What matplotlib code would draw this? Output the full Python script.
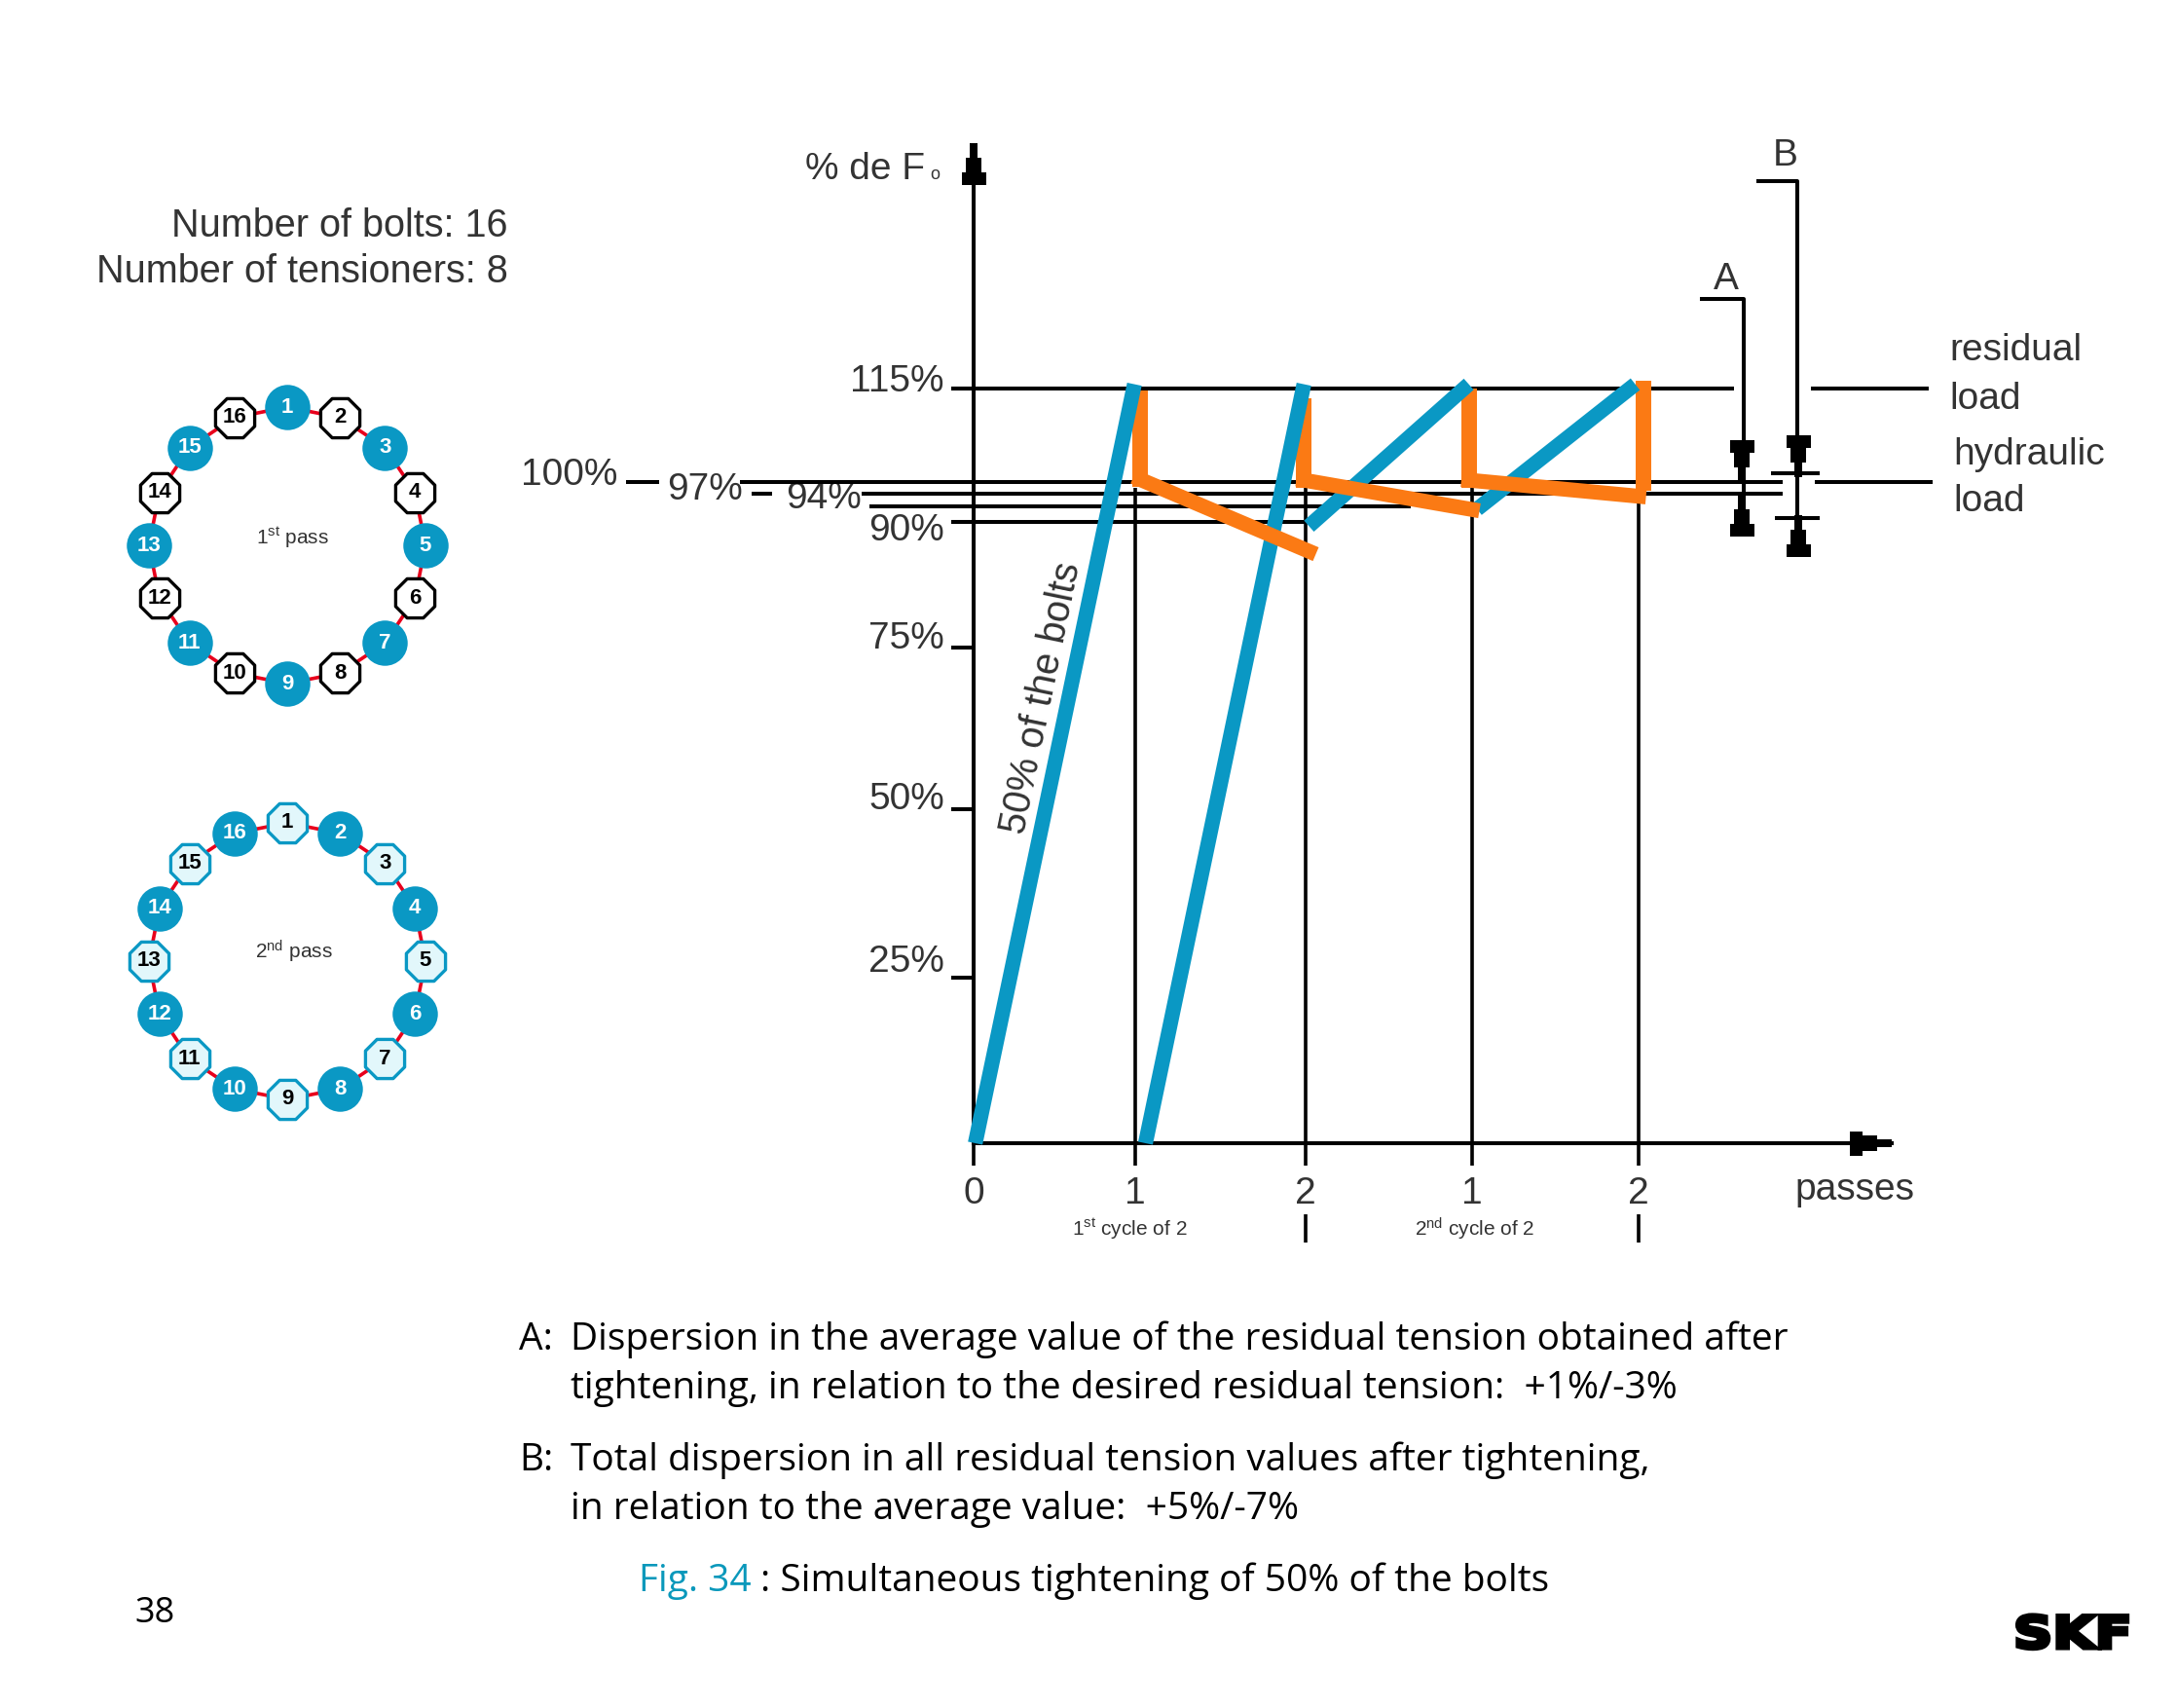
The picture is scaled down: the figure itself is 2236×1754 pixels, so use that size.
"""Simultaneous tightening of 50% of the bolts (Fig. 34)."""

import numpy as np
from matplotlib import pyplot as plt
from matplotlib import patheffects as pe
from matplotlib.transforms import Affine2D, blended_transform_factory

W, H = 2236, 1754

BLUE = "#0a98c4"
ORANGE = "#fb7a14"
LIGHT = "#e2f7fb"
RED = "#e8001c"
GREY = "#333333"

# chart data: percent of F0 against pass number
blue_x = [[0.01, 0.995], [1.06, 1.99], [2.02, 2.98], [3.03, 3.98]]
blue_y = [[0, 115.8], [0, 115.8], [89.5, 115.8], [93.3, 115.8]]
drop_x = [1.03, 1.99, 2.98, 4.02]
drop_top = [113.5, 112.2, 113.8, 115]
drop_bottom = [100.4, 100.3, 100.3, 99.7]
relax_x = [[1.03, 2.02], [1.99, 3.0], [2.98, 4.0]]
relax_y = [[100.4, 86.5], [100.3, 93.2], [100.3, 96.4]]

pass_ticks = [0, 1, 2, 3, 4]
pass_labels = ["0", "1", "2", "1", "2"]
grid_passes = [1, 2, 3, 4]
cycle_ends = [2, 4]
percent_ticks = [25, 50, 75, 90, 115]
percent_nudge = [16, 10, 9, -9, 7]

bolts = list(range(1, 17))

# the drawing is not to scale, so the axes follow the printed levels
y_levels = [0, 25, 50, 75, 90, 94, 97, 100, 115, 160]
y_pixels = [1174, 1004, 831, 665, 536, 520, 507, 495, 399, 150]
x_levels = [0, 1, 2, 3, 4, 5]
x_pixels = [1000, 1166, 1341, 1512, 1683, 1943]


def forward_y(v):
    return np.interp(v, y_levels, -np.array(y_pixels, dtype=float))


def inverse_y(v):
    return np.interp(v, -np.array(y_pixels, dtype=float), y_levels)


def forward_x(v):
    return np.interp(v, x_levels, x_pixels)


def inverse_x(v):
    return np.interp(v, x_pixels, x_levels)


class StretchedText(pe.AbstractPathEffect):
    """Widens the glyphs around their anchor and fattens them, for the logo."""

    def __init__(self, sx, width):
        super().__init__()
        self.sx = sx
        self.width = width

    def draw_path(self, renderer, gc, tpath, affine, rgbFace=None):
        x0 = affine.get_matrix()[0, 2]
        stretched = affine + Affine2D().translate(-x0, 0).scale(self.sx, 1).translate(x0, 0)
        gc0 = renderer.new_gc()
        gc0.copy_properties(gc)
        gc0.set_linewidth(self.width)
        gc0.set_foreground("black")
        gc0.set_joinstyle("miter")
        renderer.draw_path(gc0, tpath, stretched, rgbFace)
        gc0.restore()


def arrow_head(ax, x, y, dx, dy):
    """Stepped black arrow head, tip at (x, y), pointing along (dx, dy)."""
    steps = [(0, 4), (15, 4), (15, 8), (30, 8), (30, 12.5), (43, 12.5)]
    side = [(a, b) for a, b in steps] + [(a, -b) for a, b in reversed(steps)]
    px = [x - dx * a - dy * b for a, b in side]
    py = [y - dy * a + dx * b for a, b in side]
    ax.fill(px, py, color="black", lw=0, zorder=6)


def draw_ring(ax, cx, cy, dark_odd, plain_face, plain_edge):
    angles = np.radians(np.array(bolts) - 1) * 22.5
    xs = cx + 142 * np.sin(angles)
    ys = cy - 142 * np.cos(angles)
    ax.plot(np.r_[xs, xs[0]], np.r_[ys, ys[0]], color=RED, lw=2.6, zorder=1)
    for n, x, y in zip(bolts, xs, ys):
        if (n % 2 == 1) == dark_odd:
            ax.scatter(x, y, s=1120, marker="o", color=BLUE, lw=0, zorder=2)
            colour = "white"
        else:
            ax.scatter(x, y, s=980, marker="8", facecolor=plain_face,
                       edgecolor=plain_edge, lw=2.4, zorder=2)
            colour = "black"
        ax.text(x, y, str(n), color=colour, fontsize=16, ha="center", va="center",
                fontweight="bold", zorder=3)


plt.rcParams["font.family"] = ["Liberation Sans", "DejaVu Sans"]
plt.rcParams["mathtext.default"] = "regular"

fig = plt.figure(figsize=(W / 100, H / 100), dpi=100)

# page layer in pixel units, for the labels and the bolt rings
page = fig.add_axes([0, 0, 1, 1], zorder=0)
page.set_xlim(0, W)
page.set_ylim(H, 0)
page.axis("off")

ax = fig.add_axes([1000 / W, 1 - 1174 / H, 943 / W, 1024 / H], zorder=1)
ax.patch.set_visible(False)
ax.set_xscale("function", functions=(forward_x, inverse_x))
ax.set_yscale("function", functions=(forward_y, inverse_y))

level_tf = blended_transform_factory(page.transData, ax.transData)
pass_tf = blended_transform_factory(ax.transData, page.transData)

# printed levels, broken where labels and brackets sit
for level, x0, x1 in [(115, 977, 1781), (115, 1860, 1981),
                      (100, 643, 677), (100, 760, 1831), (100, 1864, 1985),
                      (97, 772, 793), (97, 885, 1831),
                      (94, 893, 1449), (90, 977, 1345)]:
    ax.hlines(level, x0, x1, color="black", lw=2.9, transform=level_tf, clip_on=False, zorder=1)

ax.vlines(grid_passes, 0, 98.5, color="black", lw=2.6, zorder=1)
ax.vlines(cycle_ends, 1247, 1276, color="black", lw=2.6, transform=pass_tf, clip_on=False)

# orange falls, blue rises, then the orange relaxation on top
for x, top, bottom in zip(drop_x, drop_top, drop_bottom):
    ax.plot([x, x], [top, bottom], color=ORANGE, lw=11.5, solid_capstyle="projecting",
            clip_on=False, zorder=3)
for x, y in zip(blue_x, blue_y):
    ax.plot(x, y, color=BLUE, lw=11, solid_capstyle="butt", clip_on=False, zorder=4)
for x, y in zip(relax_x, relax_y):
    ax.plot(x, y, color=ORANGE, lw=11, solid_capstyle="projecting", clip_on=False, zorder=5)

ax.set_xlim(0, 5)
ax.set_ylim(0, 160)
for side in ["top", "right"]:
    ax.spines[side].set_visible(False)
for side in ["left", "bottom"]:
    ax.spines[side].set_linewidth(2.9)
ax.set_xticks(pass_ticks, pass_labels, fontsize=28, color=GREY)
ax.set_yticks(percent_ticks, [""] * len(percent_ticks))
ax.minorticks_off()
ax.tick_params(axis="x", length=16.5, width=2.6, pad=8)
ax.tick_params(axis="y", length=16.5, width=2.9)

for level, nudge in zip(percent_ticks, percent_nudge):
    ax.annotate(f"{level}%", xy=(0, level), xycoords=("axes fraction", "data"),
                xytext=(-30, nudge), textcoords="offset pixels", ha="right", va="center",
                fontsize=28, color=GREY)

arrow_head(page, 1000, 147, 0, -1)
arrow_head(page, 1943, 1174, 1, 0)

# A and B brackets
page.plot([1748, 1791, 1791], [307, 307, 545], color="black", lw=2.9, zorder=5)
page.plot([1806, 1846, 1846], [186, 186, 565], color="black", lw=2.9, zorder=5)
page.hlines([486, 532], [1819, 1823], 1869, color="black", lw=2.9)
arrow_head(page, 1789, 495, 0, 1)
arrow_head(page, 1789, 508, 0, -1)
arrow_head(page, 1847, 490, 0, 1)
arrow_head(page, 1847, 529, 0, -1)

draw_ring(page, 295, 560, True, "white", "black")
draw_ring(page, 295, 987, False, LIGHT, BLUE)
page.text(300, 552, "1$^{st}$ pass", fontsize=15, color=GREY, ha="center", va="center")
page.text(302, 977, "2$^{nd}$ pass", fontsize=15, color=GREY, ha="center", va="center")

page.text(522, 232, "Number of bolts: 16", fontsize=28.5, color=GREY, ha="right", va="center")
page.text(522, 279, "Number of tensioners: 8", fontsize=28.5, color=GREY, ha="right", va="center")

page.text(827, 174, "% de F", fontsize=28, color=GREY, ha="left", va="center")
page.text(955, 180, "o", fontsize=13, color=GREY, ha="left", va="center")
page.text(535, 488, "100%", fontsize=28, color=GREY, ha="left", va="center")
page.text(685, 503, "97%", fontsize=28, color=GREY, ha="left", va="center")
page.text(807, 512, "94%", fontsize=28, color=GREY, ha="left", va="center")
page.text(1070, 717, "50% of the bolts", fontsize=28.5, color=GREY, rotation=78.4,
          ha="center", va="center", rotation_mode="anchor")
page.text(1773, 287, "A", fontsize=28, color=GREY, ha="center", va="center")
page.text(1834, 160, "B", fontsize=28, color=GREY, ha="center", va="center")
page.text(2002, 360, "residual", fontsize=28, color=GREY, ha="left", va="center")
page.text(2002, 410, "load", fontsize=28, color=GREY, ha="left", va="center")
page.text(2006, 467, "hydraulic", fontsize=28, color=GREY, ha="left", va="center")
page.text(2006, 515, "load", fontsize=28, color=GREY, ha="left", va="center")
page.text(1905, 1222, "passes", fontsize=28, color=GREY, ha="center", va="center")
page.text(1160, 1262, "1$^{st}$ cycle of 2", fontsize=15, color=GREY, ha="center", va="center")
page.text(1515, 1262, "2$^{nd}$ cycle of 2", fontsize=15, color=GREY, ha="center", va="center")

# caption block
BODY = "Open Sans"
page.text(533, 1376, "A:", family=BODY, fontsize=28, ha="left", va="center")
page.text(586, 1376, "Dispersion in the average value of the residual tension obtained after",
          family=BODY, fontsize=28, ha="left", va="center")
page.text(586, 1426, "tightening, in relation to the desired residual tension:  +1%/-3%",
          family=BODY, fontsize=28, ha="left", va="center")
page.text(533, 1500, "B:", family=BODY, fontsize=28, ha="left", va="center")
page.text(586, 1500, "Total dispersion in all residual tension values after tightening,",
          family=BODY, fontsize=28, ha="left", va="center")
page.text(586, 1550, "in relation to the average value:  +5%/-7%",
          family=BODY, fontsize=28, ha="left", va="center")
page.text(656, 1624, "Fig. 34", family=BODY, fontsize=28, color="#0a98bb", ha="left", va="center")
page.text(781, 1624, ": Simultaneous tightening of 50% of the bolts",
          family=BODY, fontsize=28, ha="left", va="center")
page.text(138, 1657, "38", family=BODY, fontsize=26, ha="left", va="center")

page.text(2068, 1680, "SKF", family="DejaVu Sans", fontweight="bold", fontsize=33, ha="left",
          va="center", color="black", path_effects=[StretchedText(1.22, 3)])

fig.savefig("out.png", dpi=100)
plt.close(fig)
